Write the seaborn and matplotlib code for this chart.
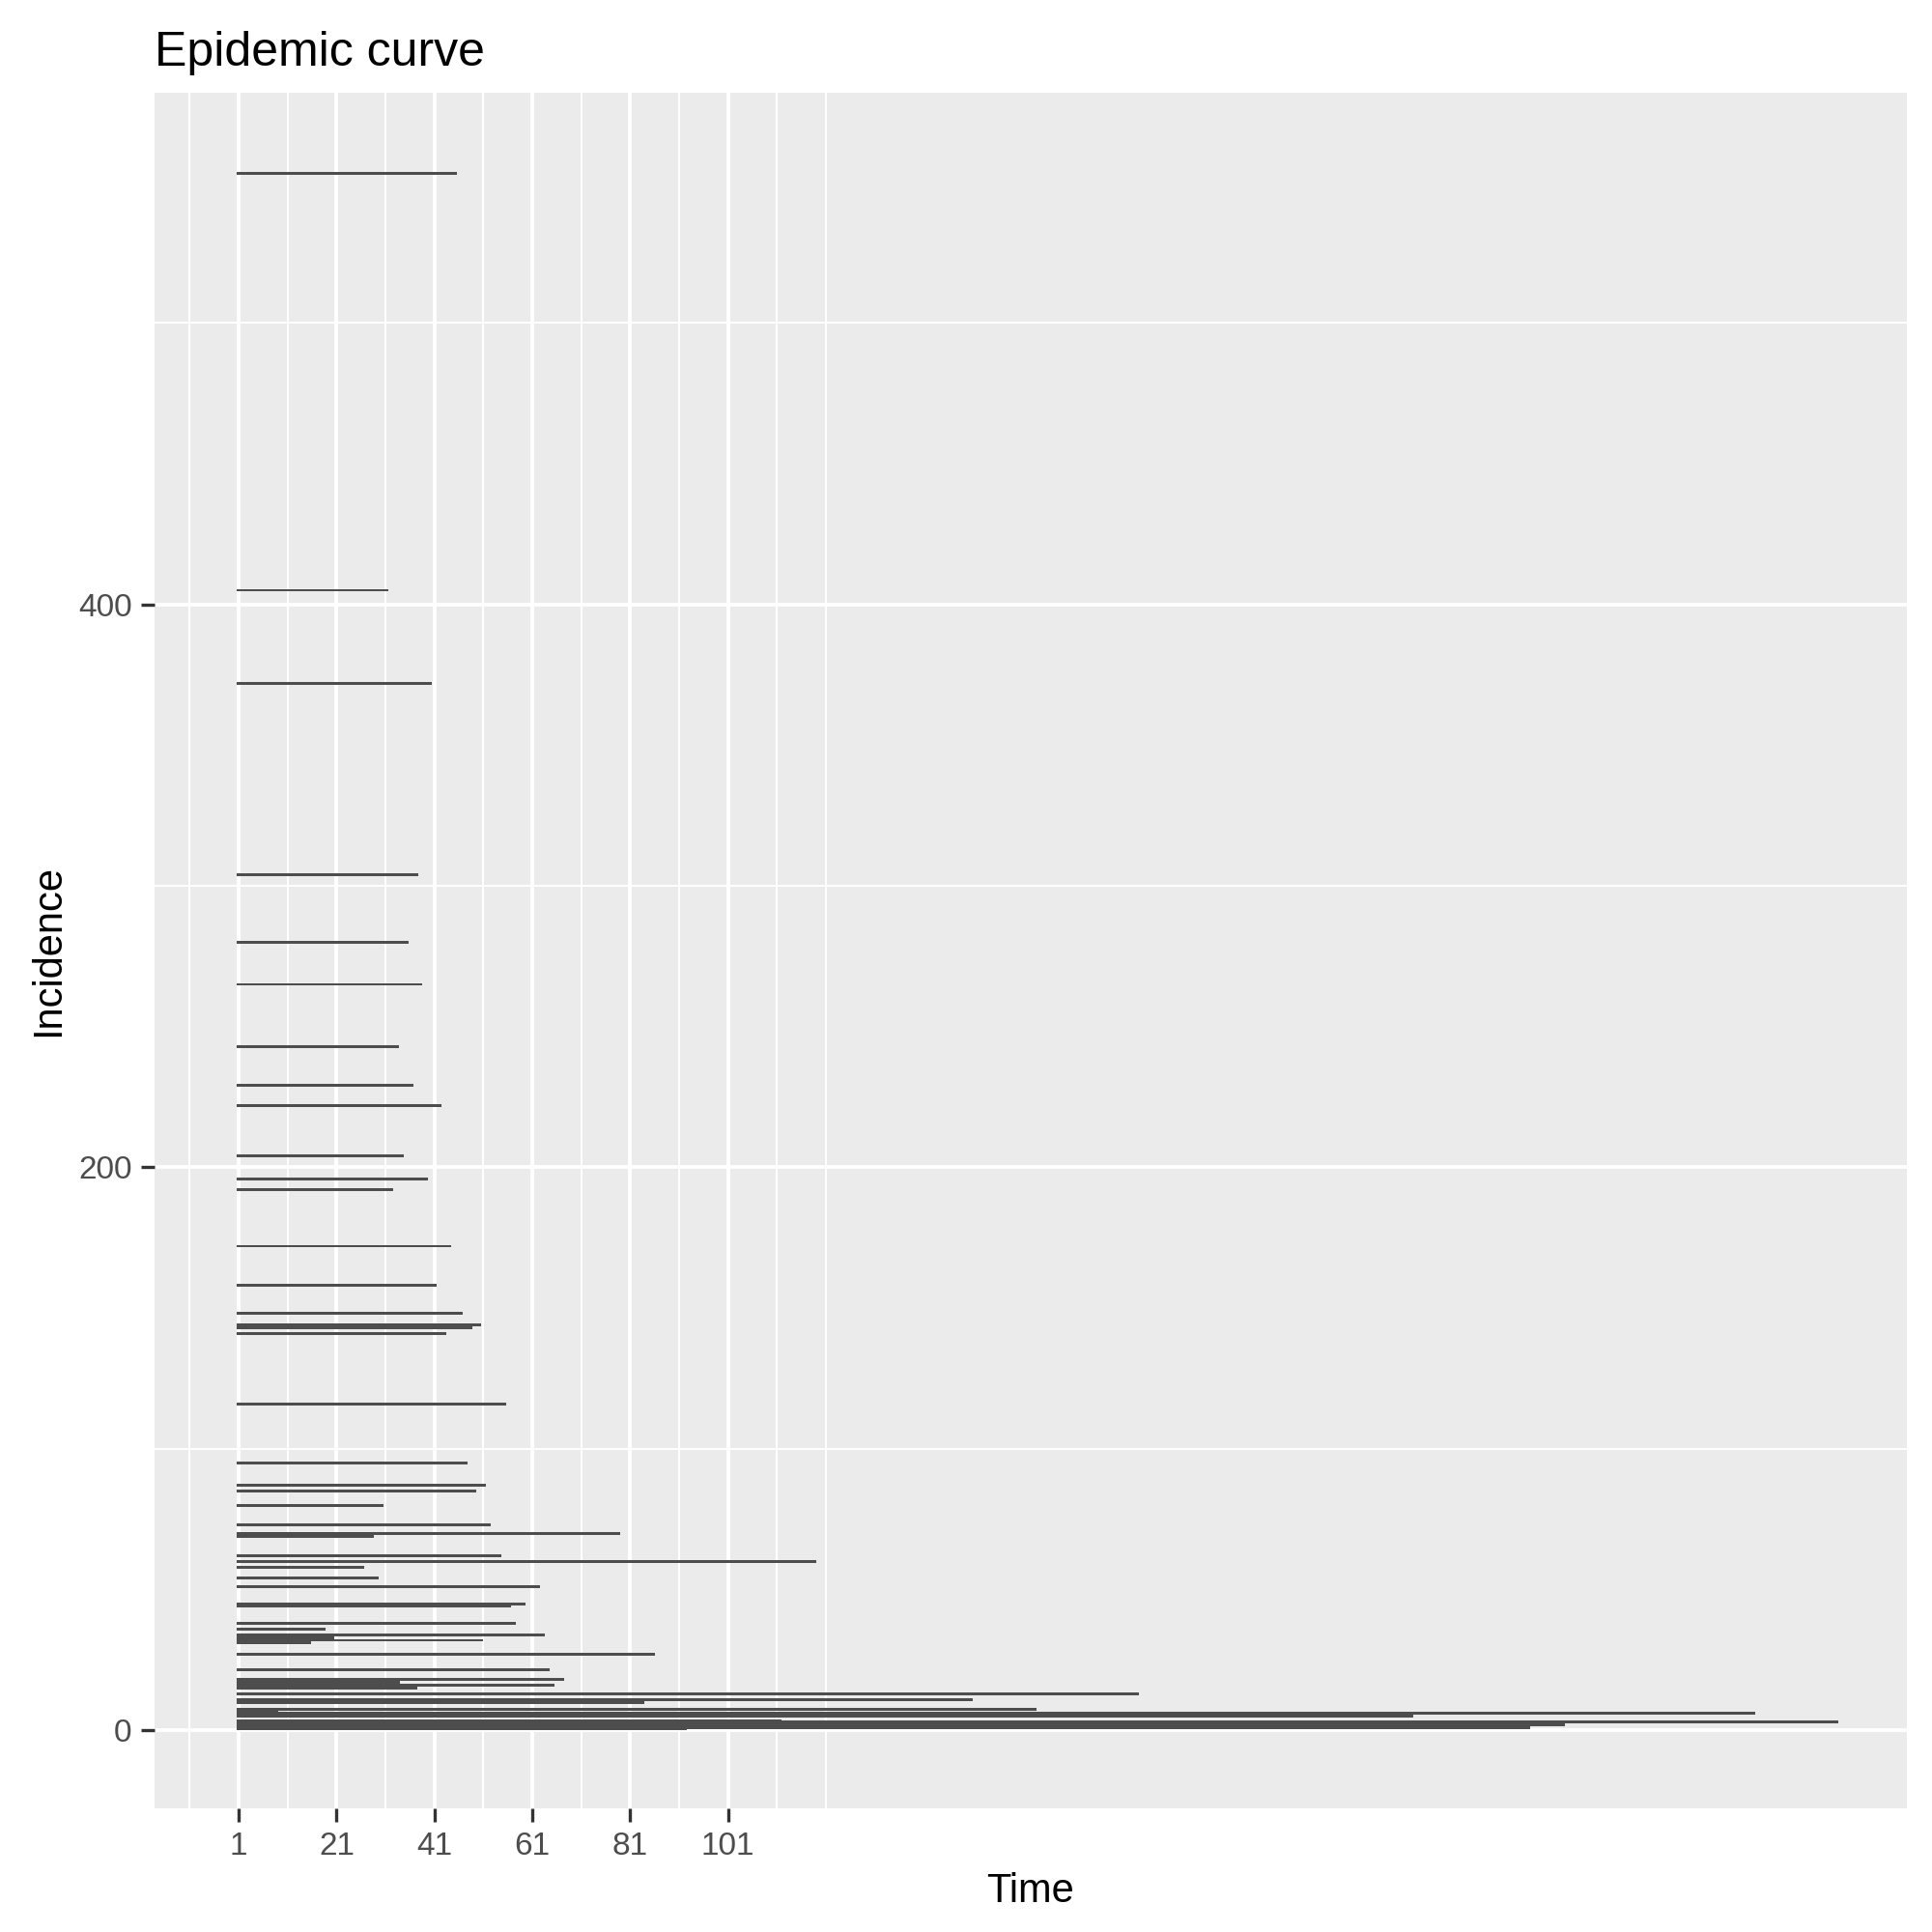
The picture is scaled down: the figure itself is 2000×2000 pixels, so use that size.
import matplotlib
matplotlib.use("Agg")
import matplotlib.pyplot as plt
import seaborn as sns
import numpy as np

incidence = [553,405,372,304,280,265,243,229,222,204,196,192,172,158,148,144,143,141,116,95,87,85,80,73,70,69,62,60,58,54,51,45,44,38,36,34,33,32,31,27,21.5,18,17,16,15,13,11,10,7.5,6,5,3,2,1,0.5,6.5,3.5]
time_end = [45.6,31.6,40.5,37.7,35.7,38.5,33.7,36.7,42.5,34.7,39.7,32.6,44.5,41.5,46.8,50.6,48.8,43.5,55.7,47.8,51.6,49.6,30.6,52.6,79,28.6,54.7,119,26.6,29.6,62.5,59.7,56.7,57.7,18.7,63.5,20.5,51,15.7,86,64.5,67.6,34,65.5,37.5,185,151,84,164,311,241,328,272,265,92.6,9,112]
tick_vals = [1,21,41,61,81,101]

sns.set_theme(style="darkgrid", rc={"axes.facecolor":"#EBEBEB","grid.color":"white"})
plt.rcParams['font.family'] = ['Liberation Sans','DejaVu Sans']
fig = plt.figure(figsize=(10,10), dpi=200)
ax = fig.add_axes([0.080,0.064,0.907,0.888])
ax.set_axisbelow(True)
ax.barh(incidence, np.array(time_end)-0.5, left=0.5, height=1.0, color="#4D4D4D", edgecolor="none", zorder=3)
ax.set_xlim(-16.2,342)
ax.set_ylim(-27.7,581.7)
ax.set_xticks(tick_vals)
ax.set_xticks([-9,11,31,51,71,91,111,121], minor=True)
ax.set_yticks([0,200,400])
ax.set_yticks([100,300,500], minor=True)
ax.grid(True, which="major", color="white", lw=1.4, zorder=0)
ax.grid(True, which="minor", color="white", lw=0.7, zorder=0)
for s in ax.spines.values(): s.set_visible(False)
ax.tick_params(axis="both", which="major", length=5, width=1.2, color="#333333", labelsize=12, labelcolor="#4D4D4D", bottom=True, left=True)
ax.tick_params(which="minor", length=0)
ax.set_xlabel("Time", fontsize=15, color="black")
ax.set_ylabel("Incidence", fontsize=15, color="black")
ax.set_title("Epidemic curve", fontsize=18, loc="left", pad=10, color="black")
fig.savefig("out.png", dpi=200)
